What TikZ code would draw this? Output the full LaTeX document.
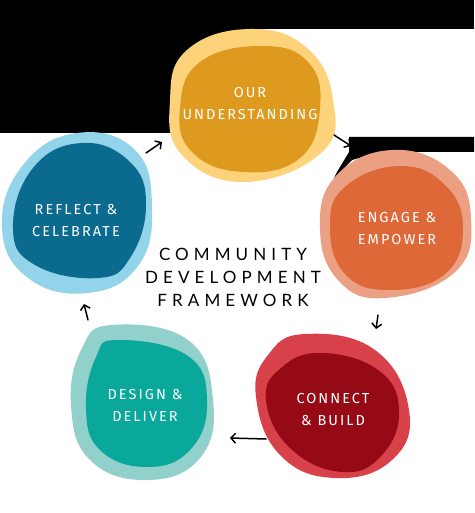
\documentclass[tikz,border=0pt]{standalone}
\usepackage{fontspec}
\newfontfamily\handfont[LetterSpace=14]{Fira Sans}
\newfontfamily\titlefont[LetterSpace=30]{Lato}
\usepackage{tikz}
\usetikzlibrary{arrows.meta}

\definecolor{sunlight}{HTML}{FCD27B}
\definecolor{sundark}{HTML}{DD9A1F}
\definecolor{skylight}{HTML}{93D4EA}
\definecolor{skydark}{HTML}{0B6B8F}
\definecolor{peachlight}{HTML}{EBA084}
\definecolor{peachdark}{HTML}{DE6838}
\definecolor{redlight}{HTML}{D8404A}
\definecolor{reddark}{HTML}{950A14}
\definecolor{teallight}{HTML}{92D0CB}
\definecolor{tealdark}{HTML}{0AA89A}

\begin{document}
\begin{tikzpicture}[x=1pt,y=-1pt,
    arr/.style={-{Straight Barb[length=4.5pt,width=10pt]},line width=1.5pt,line cap=round},
    blob/.style={smooth cycle,tension=0.75},
    blobtext/.style={text=white,align=center,font=\handfont\fontsize{14.5}{22}\selectfont}]
\useasboundingbox (0,0) rectangle (474,513);
\fill[white] (0,0) rectangle (474,513);
% see-through corners of the original
\fill[black] (0,0) rectangle (474,29);
\fill[black] (0,0) rectangle (250,133);
\fill[black] (349,137) -- (474,137) -- (474,152) -- (380,152) -- (352,160) -- (334,178) -- (337,172) -- (349,152) -- cycle;

% the five blobs
\fill[sunlight] plot[blob] coordinates {(250,29) (307,48) (333,100) (322,152) (245,182) (182,155) (170,100) (187,50)};
\fill[sundark] plot[blob] coordinates {(262,46) (308,62) (320,108) (300,158) (243,172) (192,152) (180,108) (200,62)};

\fill[skylight] plot[blob] coordinates {(77,133) (135,150) (152,207) (138,266) (88,293) (28,278) (2,227) (23,165)};
\fill[skydark] plot[blob] coordinates {(82,143) (130,162) (146,205) (130,258) (98,278) (35,265) (13,228) (33,168)};

\fill[peachlight] plot[blob] coordinates {(392,150) (450,170) (471,218) (455,272) (385,298) (338,280) (320,228) (336,176)};
\fill[peachdark] plot[blob] coordinates {(400,166) (445,185) (463,228) (445,274) (390,290) (345,274) (330,225) (346,186)};

\fill[redlight] plot[blob] coordinates {(305,334) (375,350) (409,410) (392,460) (335,478) (280,455) (256,397) (268,355)};
\fill[reddark] plot[blob] coordinates {(321,353) (378,370) (399,410) (382,455) (342,472) (290,448) (266,400) (281,368)};

\fill[teallight] plot[blob] coordinates {(112,325) (188,340) (213,400) (200,458) (147,480) (90,460) (71,405) (82,348)};
\fill[tealdark] plot[blob] coordinates {(118,340) (188,356) (207,403) (190,450) (147,467) (100,450) (86,408) (96,357)};

\node[blobtext] (under) at (250,104) {OUR\\UNDERSTANDING};
\node[blobtext] (reflect) at (76,221) {REFLECT \&\\CELEBRATE};
\node[blobtext] (engage) at (397,229) {ENGAGE \&\\EMPOWER};
\node[blobtext] (connect) at (333,409) {CONNECT\\\& BUILD};
\node[blobtext] (design) at (145,405) {DESIGN \&\\DELIVER};

\node[font=\titlefont\fontsize{17}{23}\selectfont,align=center] (title) at (233,277) {COMMUNITY\\DEVELOPMENT\\FRAMEWORK};

% arrows between the blobs
\coordinate (a1) at (146,153); \coordinate (b1) at (162,142);
\coordinate (a2) at (334,135); \coordinate (b2) at (351,146);
\coordinate (a3) at (378,315); \coordinate (b3) at (376,329);
\coordinate (a4) at (266,439); \coordinate (b4) at (230,438);
\coordinate (a5) at (88,320);  \coordinate (b5) at (84,304);
\foreach \i in {1,...,5}
    \draw[arr] (a\i) -- (b\i);
\end{tikzpicture}
\end{document}
